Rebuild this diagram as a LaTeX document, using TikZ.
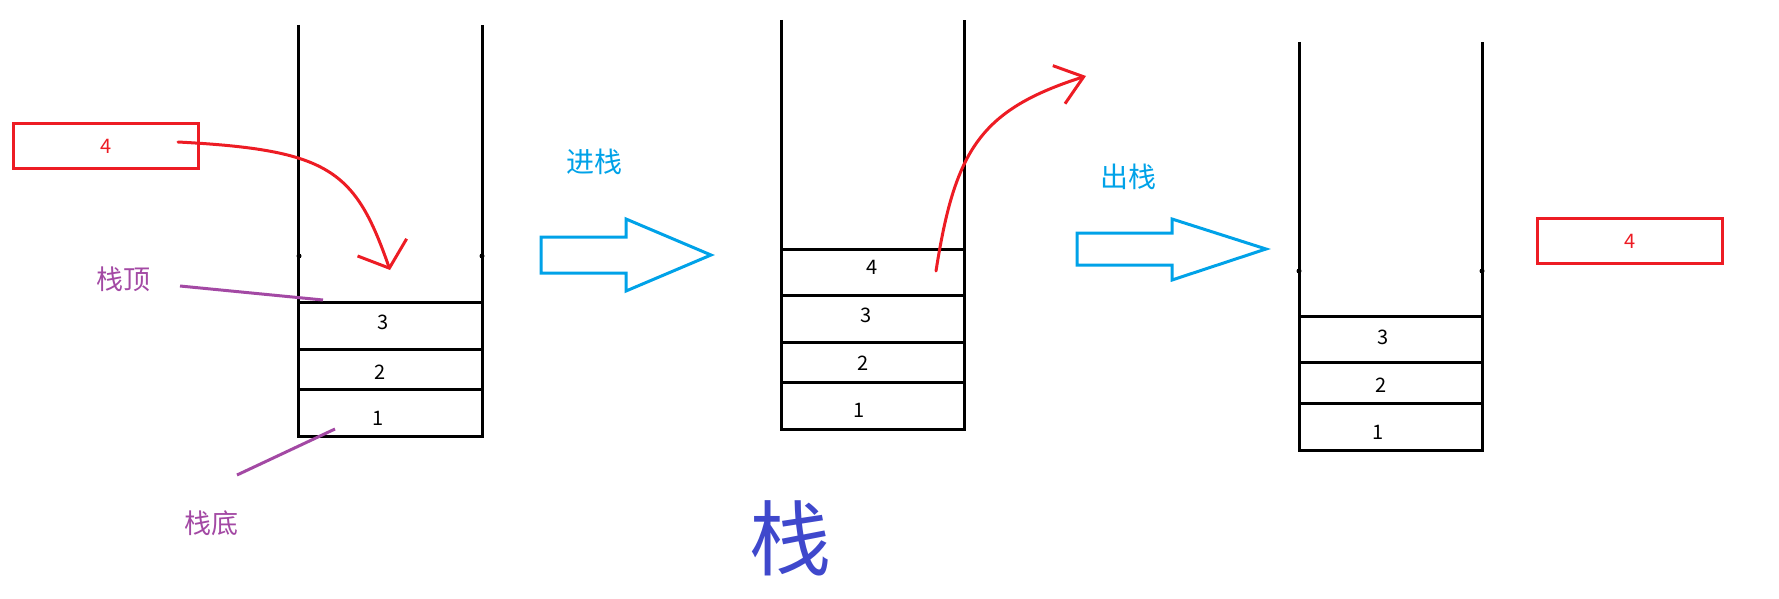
\documentclass[tikz,border=0pt]{standalone}
\usepackage{fontspec}
\usepackage{tikz}
\usetikzlibrary{arrows.meta}
\newfontfamily\cjk{Noto Sans CJK SC}
\definecolor{inkred}{HTML}{ED1C24}
\definecolor{inkblue}{HTML}{00A2E8}
\definecolor{inkpurple}{HTML}{A349A4}
\definecolor{inkindigo}{HTML}{3F48CC}

\begin{document}
\begin{tikzpicture}[x=1pt,y=-1pt,
  wall/.style={line width=3pt},
  cell/.style={font=\cjk\fontsize{20}{24}\selectfont},
  elem/.style={draw=inkred,line width=3pt,minimum width=185pt,minimum height=45pt,inner sep=0pt,text=inkred,font=\cjk\fontsize{20}{24}\selectfont},
  tag/.style={text=inkpurple,font=\cjk\fontsize{27}{32}\selectfont},
  pointer/.style={draw=inkpurple,line width=3pt},
  move/.style={draw=inkred,line width=3pt,line cap=round},
  op/.style={text=inkblue,font=\cjk\fontsize{28}{32}\selectfont},
  fat/.style={draw=inkblue,line width=3pt,line join=miter},
  dot/.style={fill,circle,inner sep=0pt,minimum size=5pt}
]
\useasboundingbox (0,0) rectangle (1779,599);
% stack before push
\draw[wall] (298,25) -- (298,436) -- (482,436) -- (482,25);
\foreach \y in {302,349,389} \draw[wall] (298,\y) -- (482,\y);
\node[dot] at (299,256) {};
\node[dot] at (482,256) {};
\node[cell] (a3) at (383,322) {3};
\node[cell] (a2) at (380,372) {2};
\node[cell] (a1) at (378,418) {1};
\node[elem] (in) at (106,146) {4};
\coordinate (pushfrom) at (178,142);
\coordinate (pushto) at (390,270);
\draw[move,-{Straight Barb[length=22pt,width=52pt]}] (pushfrom) .. controls (330,150) and (355,170) .. (pushto);
\node[tag] (top) at (123,279) {栈顶};
\node[tag] (bottom) at (211,523) {栈底};
\coordinate (topat) at (323,300);
\coordinate (bottomat) at (335,429);
\draw[pointer] (180,286) -- (topat);
\draw[pointer] (237,475) -- (bottomat);
% push
\node[op] (push) at (594,162) {进栈};
\draw[fat] (541,237) -- (626,237) -- (626,219) -- (711,255) -- (626,291) -- (626,273) -- (541,273) -- cycle;
% stack after push
\draw[wall] (781,20) -- (781,429) -- (964,429) -- (964,20);
\foreach \y in {249,295,342,382} \draw[wall] (781,\y) -- (964,\y);
\node[cell] (b4) at (872,267) {4};
\node[cell] (b3) at (866,315) {3};
\node[cell] (b2) at (863,363) {2};
\node[cell] (b1) at (859,410) {1};
\coordinate (popfrom) at (936,271);
\coordinate (popto) at (1086,76);
\draw[move,-{Straight Barb[length=26pt,width=40pt]}] (popfrom) .. controls (955,150) and (980,110) .. (popto);
% pop
\node[op] (pop) at (1128,177) {出栈};
\draw[fat] (1077,233) -- (1172,233) -- (1172,219) -- (1266,249) -- (1172,280) -- (1172,265) -- (1077,265) -- cycle;
% stack after pop
\draw[wall] (1299,42) -- (1299,450) -- (1482,450) -- (1482,42);
\foreach \y in {316,362,403} \draw[wall] (1299,\y) -- (1482,\y);
\node[dot] at (1299,271) {};
\node[dot] at (1482,271) {};
\node[cell] (c3) at (1383,337) {3};
\node[cell] (c2) at (1381,385) {2};
\node[cell] (c1) at (1378,432) {1};
\node[elem] (out) at (1630,241) {4};
% title
\node[text=inkindigo,font=\cjk\fontsize{82}{90}\selectfont] (title) at (790,538) {栈};
\end{tikzpicture}
\end{document}
